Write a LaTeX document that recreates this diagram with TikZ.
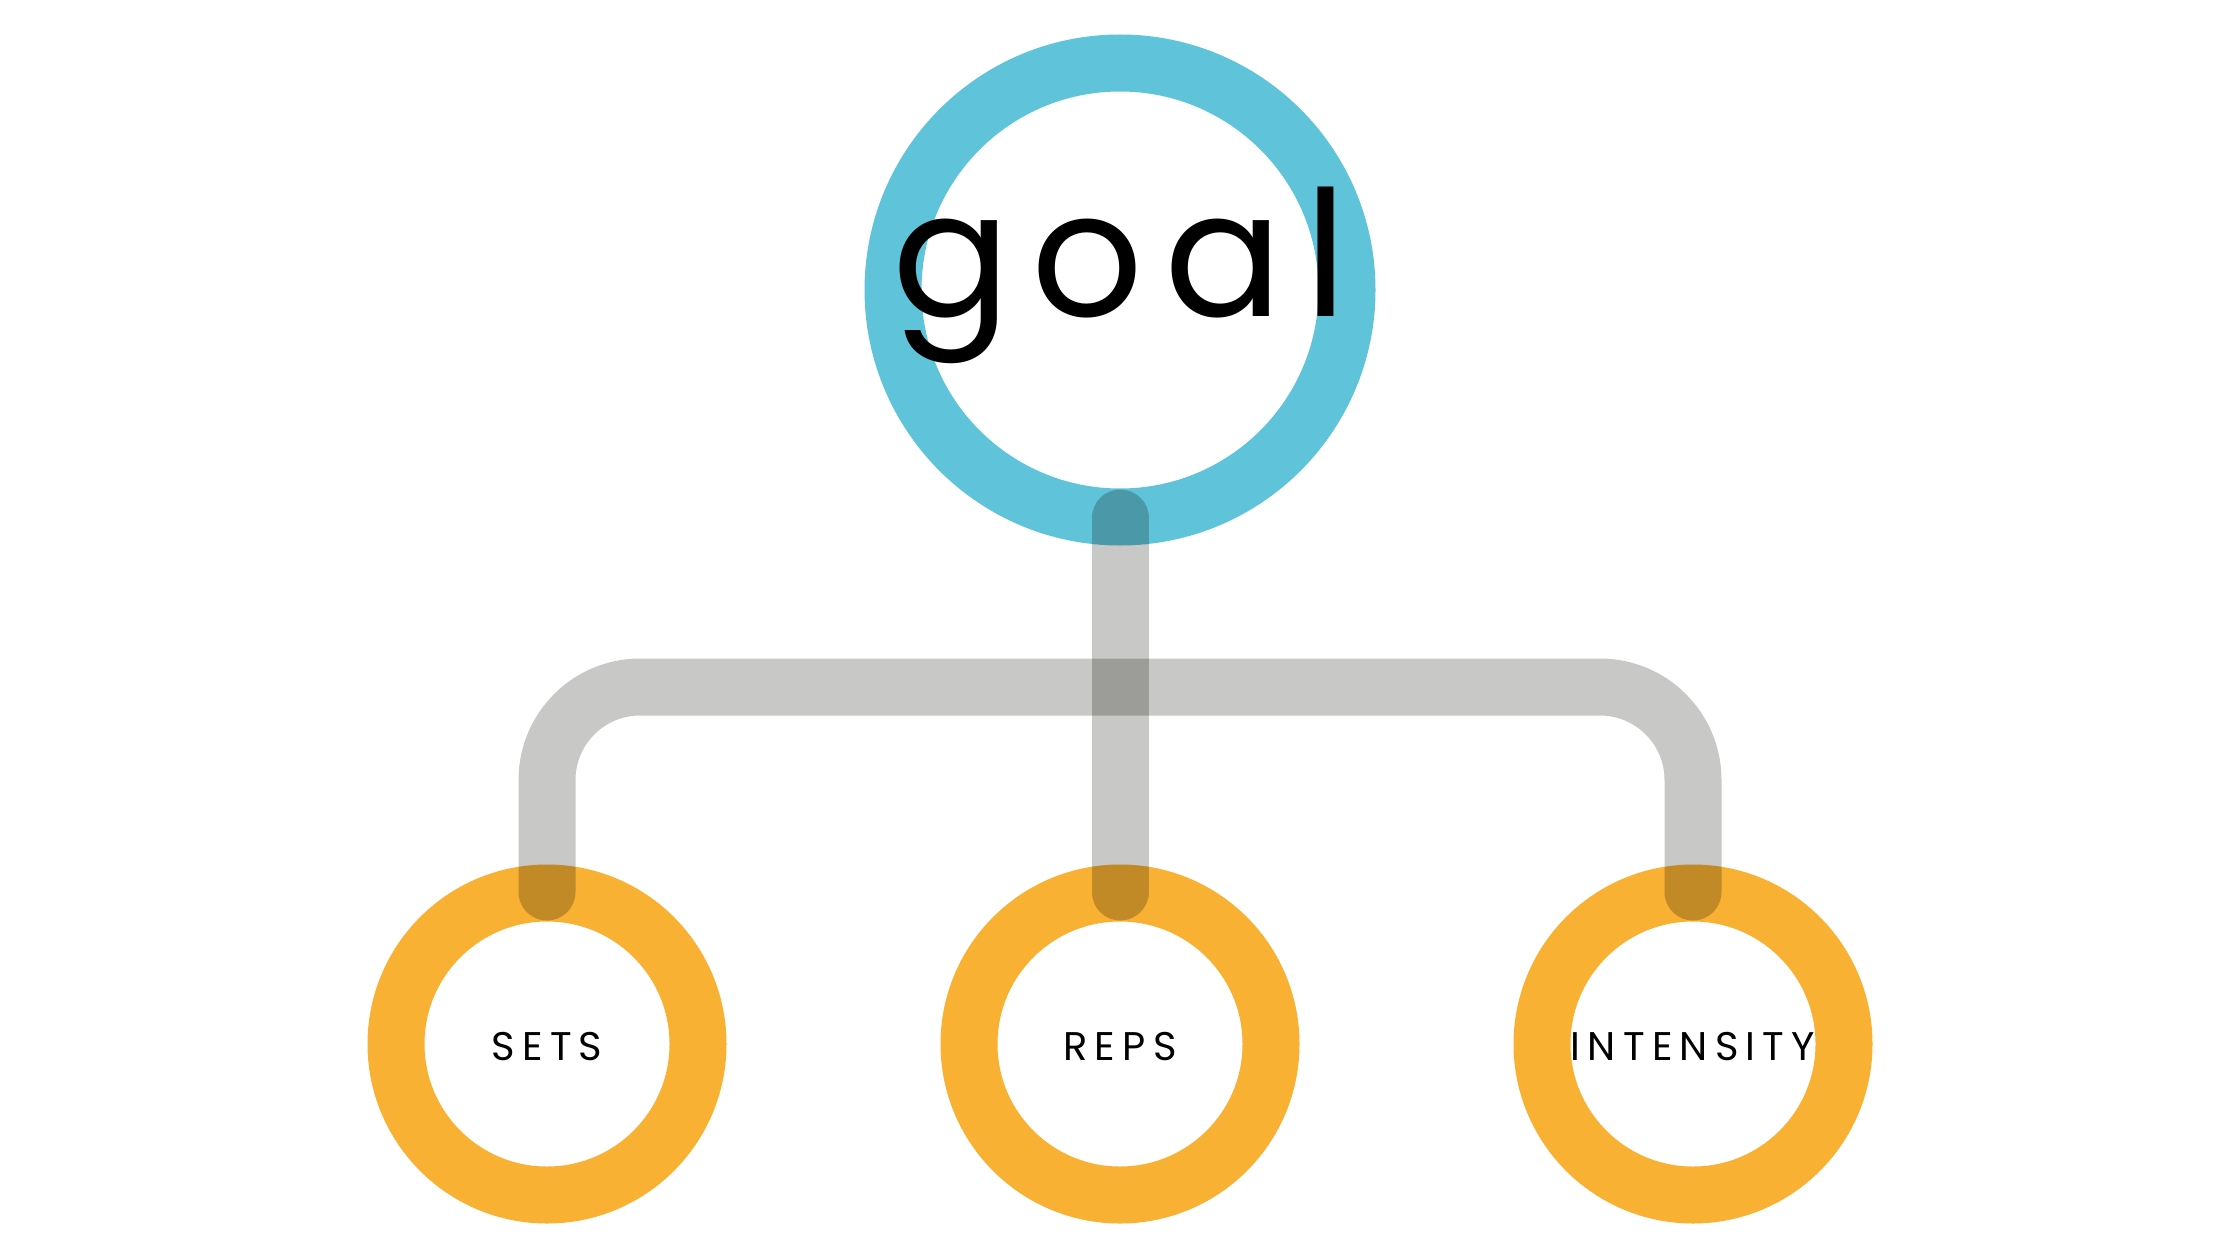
\documentclass[tikz,border=0pt]{standalone}
\usepackage{fontspec}
\setmainfont{Poppins}
\begin{document}
\begin{tikzpicture}[x=1pt,y=-1pt,
  ringblue/.style={draw={rgb,255:red,95;green,195;blue,217},line width=57pt},
  ringorange/.style={draw={rgb,255:red,248;green,177;blue,51},line width=57pt},
  conn/.style={draw={rgb,255:red,200;green,200;blue,198},line width=57pt,line cap=round,blend mode=multiply},
  lab/.style={font=\fontsize{40}{40}\selectfont\addfontfeatures{LetterSpace=18}}]
\useasboundingbox (0,0) rectangle (2240,1260);
\coordinate (g) at (1120,290);
\coordinate (s) at (547,1044);
\coordinate (r) at (1120,1044);
\coordinate (i) at (1693,1044);
\draw[ringblue] (g) circle[radius=227];
\draw[ringorange] (s) circle[radius=151];
\draw[ringorange] (r) circle[radius=151];
\draw[ringorange] (i) circle[radius=151];
\coordinate (gb) at (1120,518);
\coordinate (rt) at (1120,892);
\coordinate (st) at (547,892);
\coordinate (it) at (1693,892);
\coordinate (hl) at (547,687);
\coordinate (hr) at (1693,687);
\draw[conn] (gb) -- (rt);
\draw[conn,rounded corners=93pt] (st) -- (hl) -- (hr) -- (it);
\node[font=\fontsize{175}{175}\selectfont\addfontfeatures{LetterSpace=12}] (goal) at (1120,275) {goal};
\node[lab] (sets) at (547,1047) {SETS};
\node[lab] (reps) at (1120,1047) {REPS};
\node[lab] (int) at (1693,1047) {INTENSITY};
\end{tikzpicture}
\end{document}
